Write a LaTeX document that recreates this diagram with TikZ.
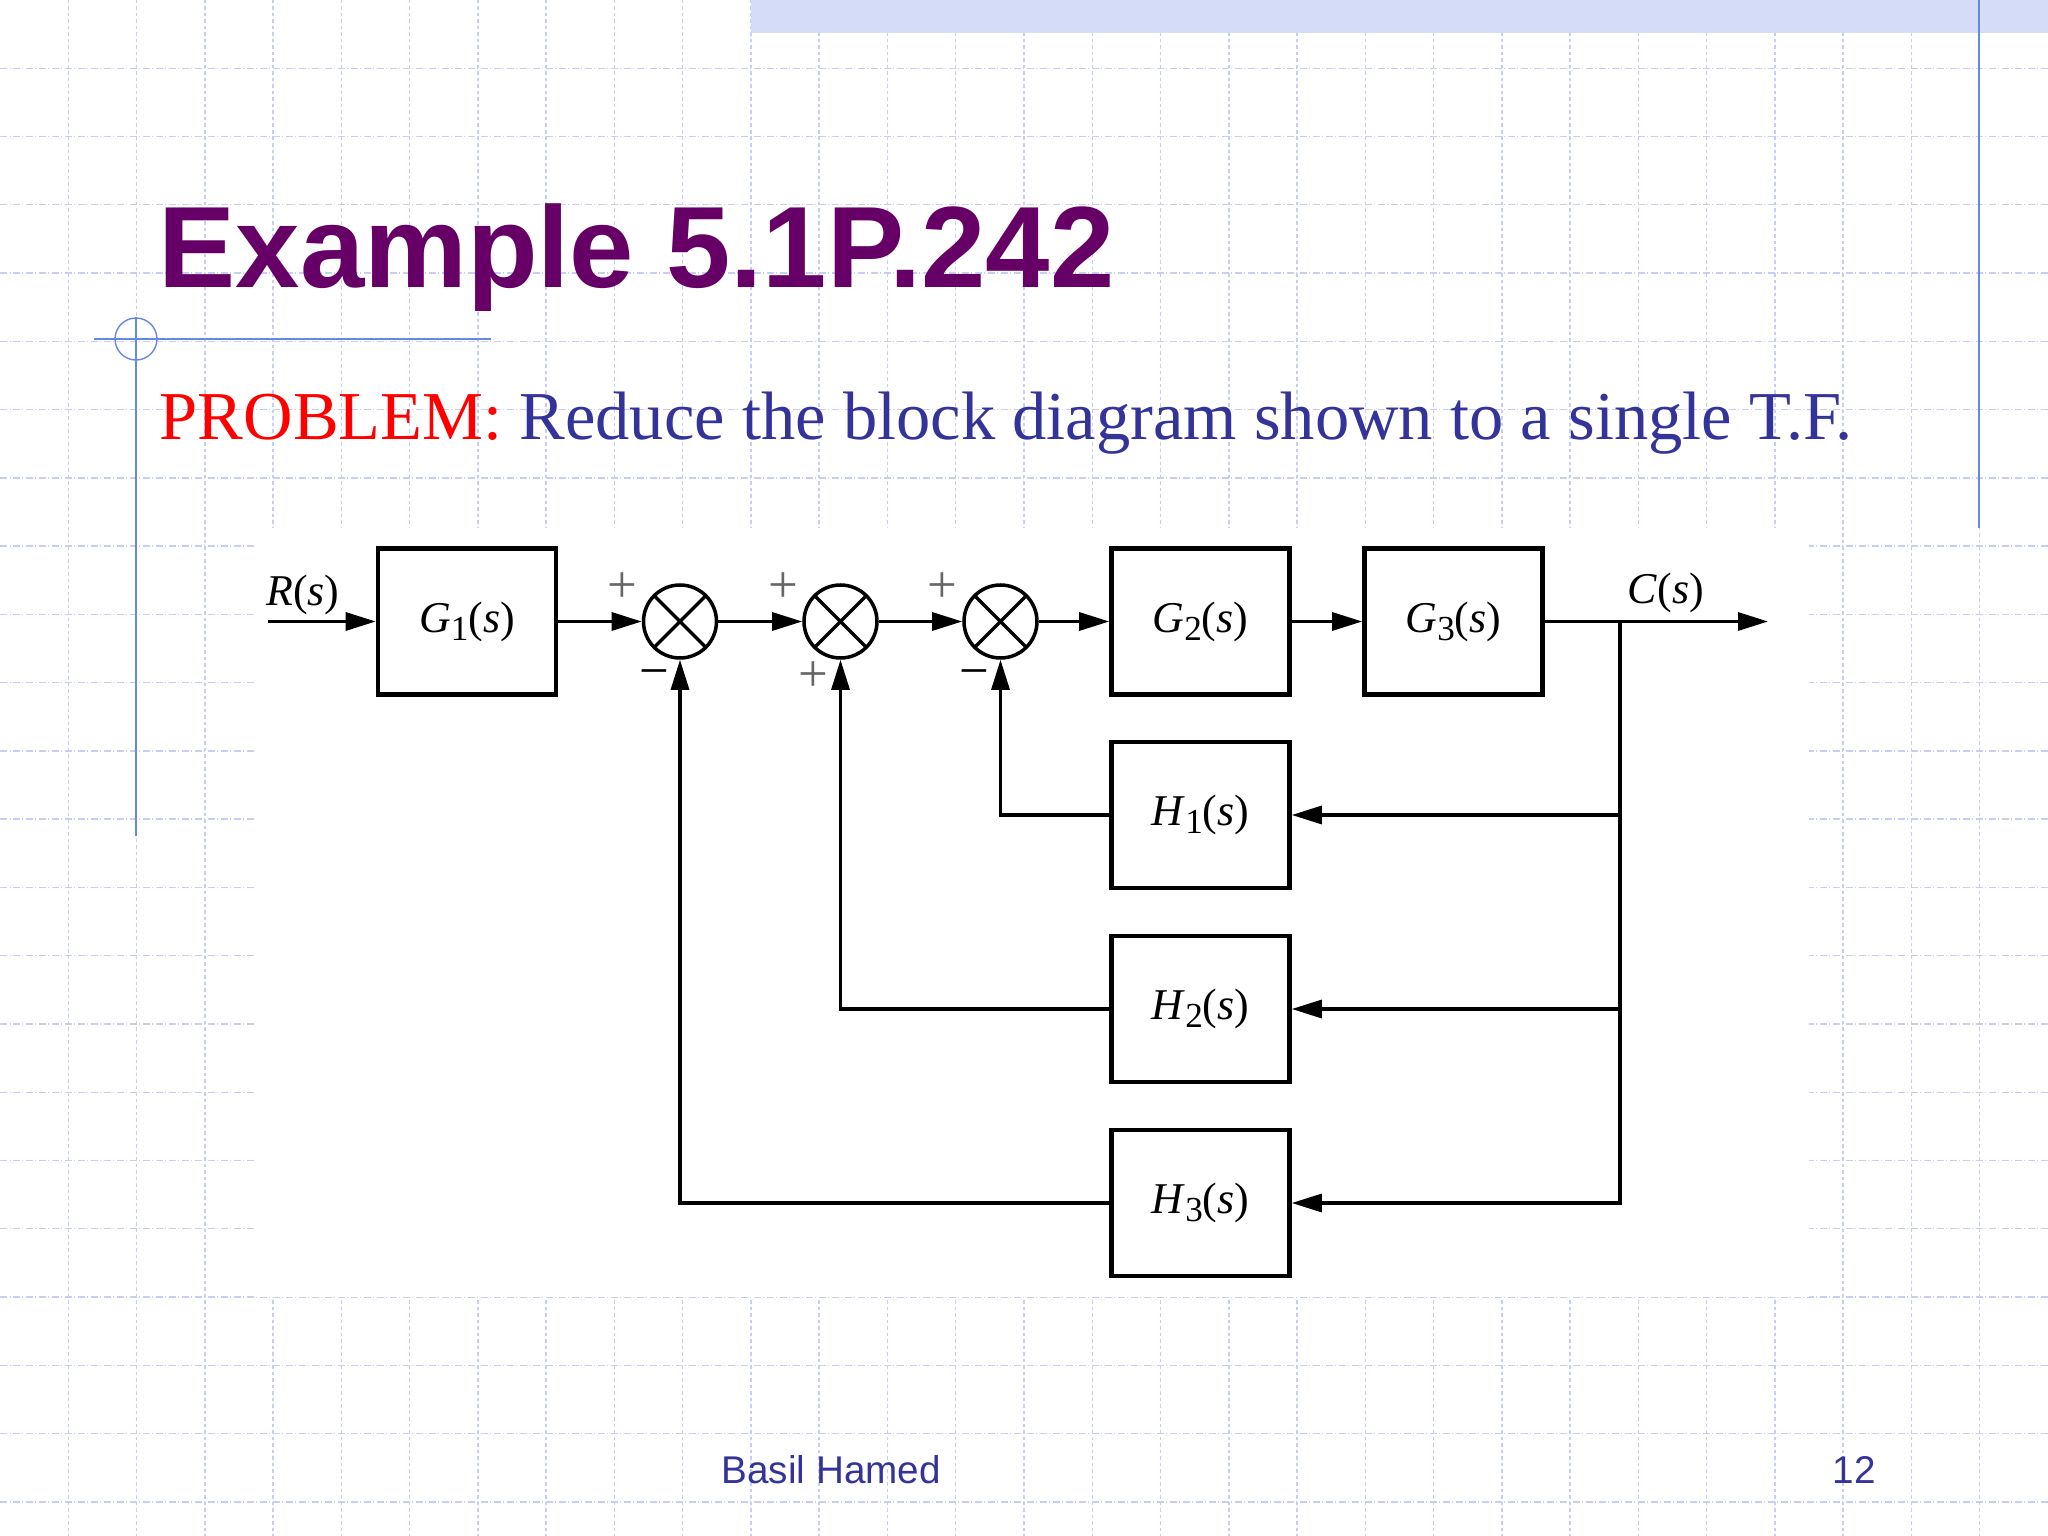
\documentclass[tikz,border=0pt]{standalone}
\usepackage{fontspec}
\setmainfont{Liberation Serif}
\newfontfamily\headfont{Liberation Sans}
\usetikzlibrary{arrows.meta, positioning}

\definecolor{gridblue}{RGB}{200,205,245}
\definecolor{accentblue}{RGB}{102,136,221}
\definecolor{bandblue}{RGB}{212,220,248}
\definecolor{titlepurple}{RGB}{102,0,102}
\definecolor{textblue}{RGB}{51,51,153}

\newcommand{\tfn}[2]{\textit{#1}\raisebox{-0.4ex}{\fontsize{10}{10}\selectfont #2}(\textit{s})}

\begin{document}
\begin{tikzpicture}[
    block/.style={rectangle, draw, line width=1.3pt, minimum width=1.78cm, minimum height=1.46cm, font=\fontsize{12.5}{14}\selectfont, fill=white},
    sumpt/.style={circle, draw, line width=1pt, minimum size=0.73cm, inner sep=0pt, fill=white,
        path picture={\draw[line width=1pt] (path picture bounding box.north west) -- (path picture bounding box.south east)
        (path picture bounding box.north east) -- (path picture bounding box.south west);}},
    arrow/.style={-{Triangle[length=0.3cm, width=0.18cm]}, line width=0.9pt},
    sig/.style={font=\fontsize{15}{16}\selectfont, inner sep=0pt},
    lbl/.style={font=\fontsize{12.5}{14}\selectfont, inner sep=0pt},
    gridv/.style={gridblue, line width=0.4pt, dash pattern=on 0.035cm off 0.03cm},
    gridh/.style={gridblue, line width=0.4pt, dash pattern=on 0.07cm off 0.025cm on 0.01cm off 0.025cm},
    accent/.style={accentblue, line width=0.6pt}
]
\useasboundingbox (0,0) rectangle (20.48,-15.36);

% Slide background
\fill[white] (0,0) rectangle (20.48,-15.36);
\foreach \k in {1,...,29}
    \draw[gridv] (\k*0.68267,0) -- (\k*0.68267,-15.36);
\foreach \k in {1,...,22}
    \draw[gridh] (0,-\k*0.68267) -- (20.48,-\k*0.68267);
\fill[bandblue] (7.51,0) rectangle (20.48,-0.33);
\fill[white] (2.55,-5.28) rectangle (18.09,-12.97);
\draw[accent] (19.79,0) -- (19.79,-5.28);
\draw[accent] (0.94,-3.39) -- (4.91,-3.39);
\draw[accent] (1.36,-3.17) -- (1.36,-8.36);
\draw[accent, line width=0.4pt] (1.36,-3.39) circle (0.21);

% Slide texts
\node[anchor=base west, inner sep=0pt, font=\headfont\bfseries\fontsize{32.9}{38}\selectfont, text=titlepurple] (title) at (1.58,-2.88) {Example 5.1P.242};
\node[anchor=base west, inner sep=0pt, font=\fontsize{19.5}{23}\selectfont, text=textblue] (problem) at (1.59,-4.40) {\textcolor{red}{PROBLEM:} Reduce the block diagram shown to a single T.F.};
\node[anchor=base west, inner sep=0pt, font=\headfont\fontsize{11}{13}\selectfont, text=textblue] (author) at (7.21,-14.83) {Basil Hamed};
\node[anchor=base west, inner sep=0pt, font=\headfont\fontsize{11}{13}\selectfont, text=textblue] (pagenum) at (18.32,-14.83) {12};

% Forward path
\coordinate (in) at (2.68,-6.215);
\node[block] (g1) at (4.67,-6.215) {\tfn{G}{1}};
\node[sumpt] (s1) at (6.80,-6.215) {};
\node[sumpt] (s2) at (8.405,-6.215) {};
\node[sumpt] (s3) at (10.005,-6.215) {};
\node[block] (g2) at (12.005,-6.215) {\tfn{G}{2}};
\node[block] (g3) at (14.535,-6.215) {\tfn{G}{3}};
\coordinate (br) at (16.20,-6.215);
\coordinate (out) at (17.68,-6.215);

% Feedback blocks
\node[block] (h1) at (12.005,-8.15) {\tfn{H}{1}};
\node[block] (h2) at (12.005,-10.09) {\tfn{H}{2}};
\node[block] (h3) at (12.005,-12.03) {\tfn{H}{3}};

% Signal labels and signs
\node[lbl] (rlab) at (3.03,-5.945) {\textit{R}(\textit{s})};
\node[lbl] (clab) at (16.66,-5.925) {\textit{C}(\textit{s})};
\node[sig, text=black!60] (p1t) at (6.22,-5.88) {+};
\node[sig] (p1b) at (6.54,-6.79) {−};
\node[sig, text=black!60] (p2t) at (7.83,-5.88) {+};
\node[sig, text=black!60] (p2b) at (8.13,-6.77) {+};
\node[sig, text=black!60] (p3t) at (9.42,-5.88) {+};
\node[sig] (p3b) at (9.74,-6.79) {−};

% Connections
\draw[arrow] (in) -- (g1);
\draw[arrow] (g1) -- (s1);
\draw[arrow] (s1) -- (s2);
\draw[arrow] (s2) -- (s3);
\draw[arrow] (s3) -- (g2);
\draw[arrow] (g2) -- (g3);
\draw[arrow] (g3) -- (out);
\draw[arrow] (br) |- (h1);
\draw[arrow] (br) |- (h2);
\draw[arrow] (br) |- (h3);
\draw[arrow] (h1) -| (s3);
\draw[arrow] (h2) -| (s2);
\draw[arrow] (h3) -| (s1);

\end{tikzpicture}
\end{document}
